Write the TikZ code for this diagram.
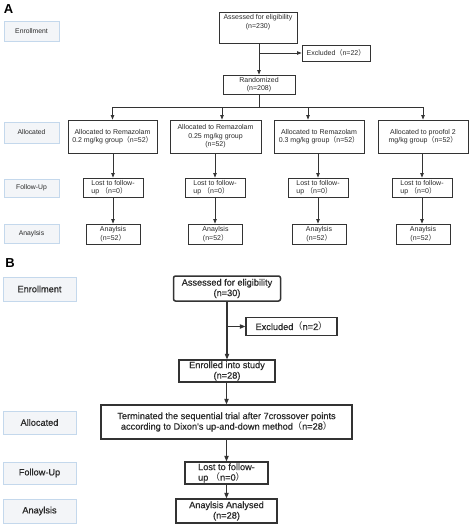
\documentclass[tikz,border=0pt]{standalone}
\usepackage{fontspec}
\setmainfont{Liberation Sans}
\newfontfamily\cjkfont{Noto Sans CJK SC}
\newfontfamily\bfake[FakeBold=0.6]{Liberation Sans}
\usetikzlibrary{arrows.meta}
\newcommand{\flp}{{\cjkfont （}}
\newcommand{\frp}{{\cjkfont ）}}
\definecolor{linec}{HTML}{333333}
\definecolor{txt}{HTML}{2A2A2A}
\definecolor{lblb}{HTML}{C4D8EC}
\definecolor{lblf}{HTML}{F3F5F8}
\begin{document}
\begin{tikzpicture}[x=1pt,y=-1pt,
  lbl/.style={draw=lblb, fill=lblf, line width=0.7pt, inner sep=0pt, text=txt},
  lblA/.style={lbl, minimum width=55pt, font=\fontsize{6.8}{8}\selectfont},
  lblB/.style={lbl, minimum width=73pt, font=\bfake\fontsize{9.2}{11}\selectfont},
  boxA/.style={draw=linec, line width=0.8pt, fill=white, inner sep=0pt, align=center, text=txt, font=\fontsize{7}{8.5}\selectfont},
  boxB/.style={draw=linec, line width=1.1pt, fill=white, inner sep=0pt, align=center, text=txt, font=\bfake\fontsize{9.2}{10.5}\selectfont},
  lnA/.style={draw=linec, line width=0.8pt},
  arrA/.style={lnA, -{Triangle[length=4.5pt,width=3.4pt]}},
  lnB/.style={draw=linec, line width=1.1pt},
  arrB/.style={lnB, -{Triangle[length=5.5pt,width=4.2pt]}},
  ttl/.style={font=\bfseries\fontsize{13}{13}\selectfont, inner sep=0pt, text=black}
]
\path[use as bounding box, fill=white] (0,0) rectangle (474,524);

% ---------------- Panel A ----------------
\node[ttl] (tA) at (8.5,9.5) {A};
\node[lblA, minimum height=20pt] (lA1) at (31.5,31) {Enrollment};
\node[lblA, minimum height=21pt] (lA2) at (31.5,132.5) {Allocated};
\node[lblA, minimum height=18pt] (lA3) at (31.5,188) {Follow-Up};
\node[lblA, minimum height=19pt] (lA4) at (31.5,233.5) {Anaylsis};

\node[boxA, minimum width=78pt, minimum height=31pt, text depth=12pt] (a1) at (258,27.5) {Assessed for eligibility\\(n=230)};
\node[boxA, minimum width=68pt, minimum height=16pt] (ex) at (336,53) {Excluded\flp n=22\frp};
\node[boxA, minimum width=72pt, minimum height=19pt] (rnd) at (259,84.5) {Randomized\\(n=208)};

\node[boxA, minimum width=89pt, minimum height=33pt] (al1) at (112.5,136.5) {Allocated to Remazolam\\0.2 mg/kg group\flp n=52\frp};
\node[boxA, minimum width=91pt, minimum height=33pt] (al2) at (215.5,136.5) {Allocated to Remazolam\\0.25 mg/kg group\\(n=52)};
\node[boxA, minimum width=90pt, minimum height=33pt] (al3) at (319,136.5) {Allocated to Remazolam\\0.3 mg/kg group\flp n=52\frp};
\node[boxA, minimum width=90pt, minimum height=33pt] (al4) at (423,136.5) {Allocated to proofol 2\\mg/kg group\flp n=52\frp};

\node[boxA, align=left, minimum width=60pt, minimum height=19pt] (lo1) at (113,187.5) {Lost to follow-\\up \flp n=0\frp};
\node[boxA, align=left, minimum width=60pt, minimum height=19pt] (lo2) at (215,187.5) {Lost to follow-\\up \flp n=0\frp};
\node[boxA, align=left, minimum width=60pt, minimum height=19pt] (lo3) at (318,187.5) {Lost to follow-\\up \flp n=0\frp};
\node[boxA, align=left, minimum width=60pt, minimum height=19pt] (lo4) at (422,187.5) {Lost to follow-\\up \flp n=0\frp};

\node[boxA, minimum width=54pt, minimum height=20pt] (an1) at (113,234) {Anaylsis\\(n=52\frp};
\node[boxA, minimum width=54pt, minimum height=20pt] (an2) at (215.5,234) {Anaylsis\\(n=52\frp};
\node[boxA, minimum width=54pt, minimum height=20pt] (an3) at (319,234) {Anaylsis\\(n=52\frp};
\node[boxA, minimum width=54pt, minimum height=20pt] (an4) at (423,234) {Anaylsis\\(n=52\frp};

\draw[arrA] (a1.south -| rnd.north) -- (rnd.north);
\coordinate (bA) at (rnd.north |- ex.west);
\draw[arrA] (bA) -- (ex.west);
\coordinate (d1) at (112.5,107.5);
\coordinate (d2) at (222,107.5);
\coordinate (d3) at (308,107.5);
\coordinate (d4) at (423,107.5);
\draw[lnA] (rnd.south) -- (rnd.south |- d1);
\draw[lnA] (d1) -- (d4);
\draw[arrA] (d1) -- (d1 |- al1.north);
\draw[arrA] (d2) -- (d2 |- al2.north);
\draw[arrA] (d3) -- (d3 |- al3.north);
\draw[arrA] (d4) -- (d4 |- al4.north);
\foreach \i in {1,2,3,4}{
  \draw[arrA] (lo\i.north |- al\i.south) -- (lo\i.north);
  \draw[arrA] (lo\i.south) -- (lo\i.south |- an\i.north);
}

% ---------------- Panel B ----------------
\node[ttl] (tB) at (10,263) {B};
\node[lblB, minimum height=24pt] (lB1) at (39.5,289) {Enrollment};
\node[lblB, minimum height=23pt] (lB2) at (39.5,422.5) {Allocated};
\node[lblB, minimum height=22pt] (lB3) at (39.5,473) {Follow-Up};
\node[lblB, minimum height=24pt] (lB4) at (39.5,511) {Anaylsis};

\node[boxB, line width=1.5pt, rounded corners=2pt, minimum width=107pt, minimum height=25pt] (b1) at (227,288.5) {Assessed for eligibility\\(n=30)};
\node[boxB, minimum width=91pt, minimum height=18pt] (bex) at (291.5,326.5) {Excluded\flp n=2\frp};
\node[boxB, minimum width=96pt, minimum height=22pt] (ben) at (227,371) {Enrolled into study\\(n=28)};
\node[boxB, minimum width=251pt, minimum height=34pt] (bte) at (226.5,422) {Terminated the sequential trial after 7crossover points\\according to Dixon's up-and-down method\flp n=28\frp};
\node[boxB, align=left, minimum width=83pt, minimum height=22pt] (blo) at (226.5,473) {Lost to follow-\\up \flp n=0\frp};
\node[boxB, minimum width=101pt, minimum height=24pt] (ban) at (226.5,511) {Anaylsis Analysed\\(n=28)};

\draw[arrB] (b1.south) -- (b1.south |- ben.north);
\coordinate (bB) at (b1.south |- bex.west);
\draw[arrB] (bB) -- (bex.west);
\draw[arrB] (ben.south -| bte.north) -- (bte.north);
\draw[arrB] (bte.south) -- (blo.north);
\draw[arrB] (blo.south) -- (ban.north);
\end{tikzpicture}
\end{document}
